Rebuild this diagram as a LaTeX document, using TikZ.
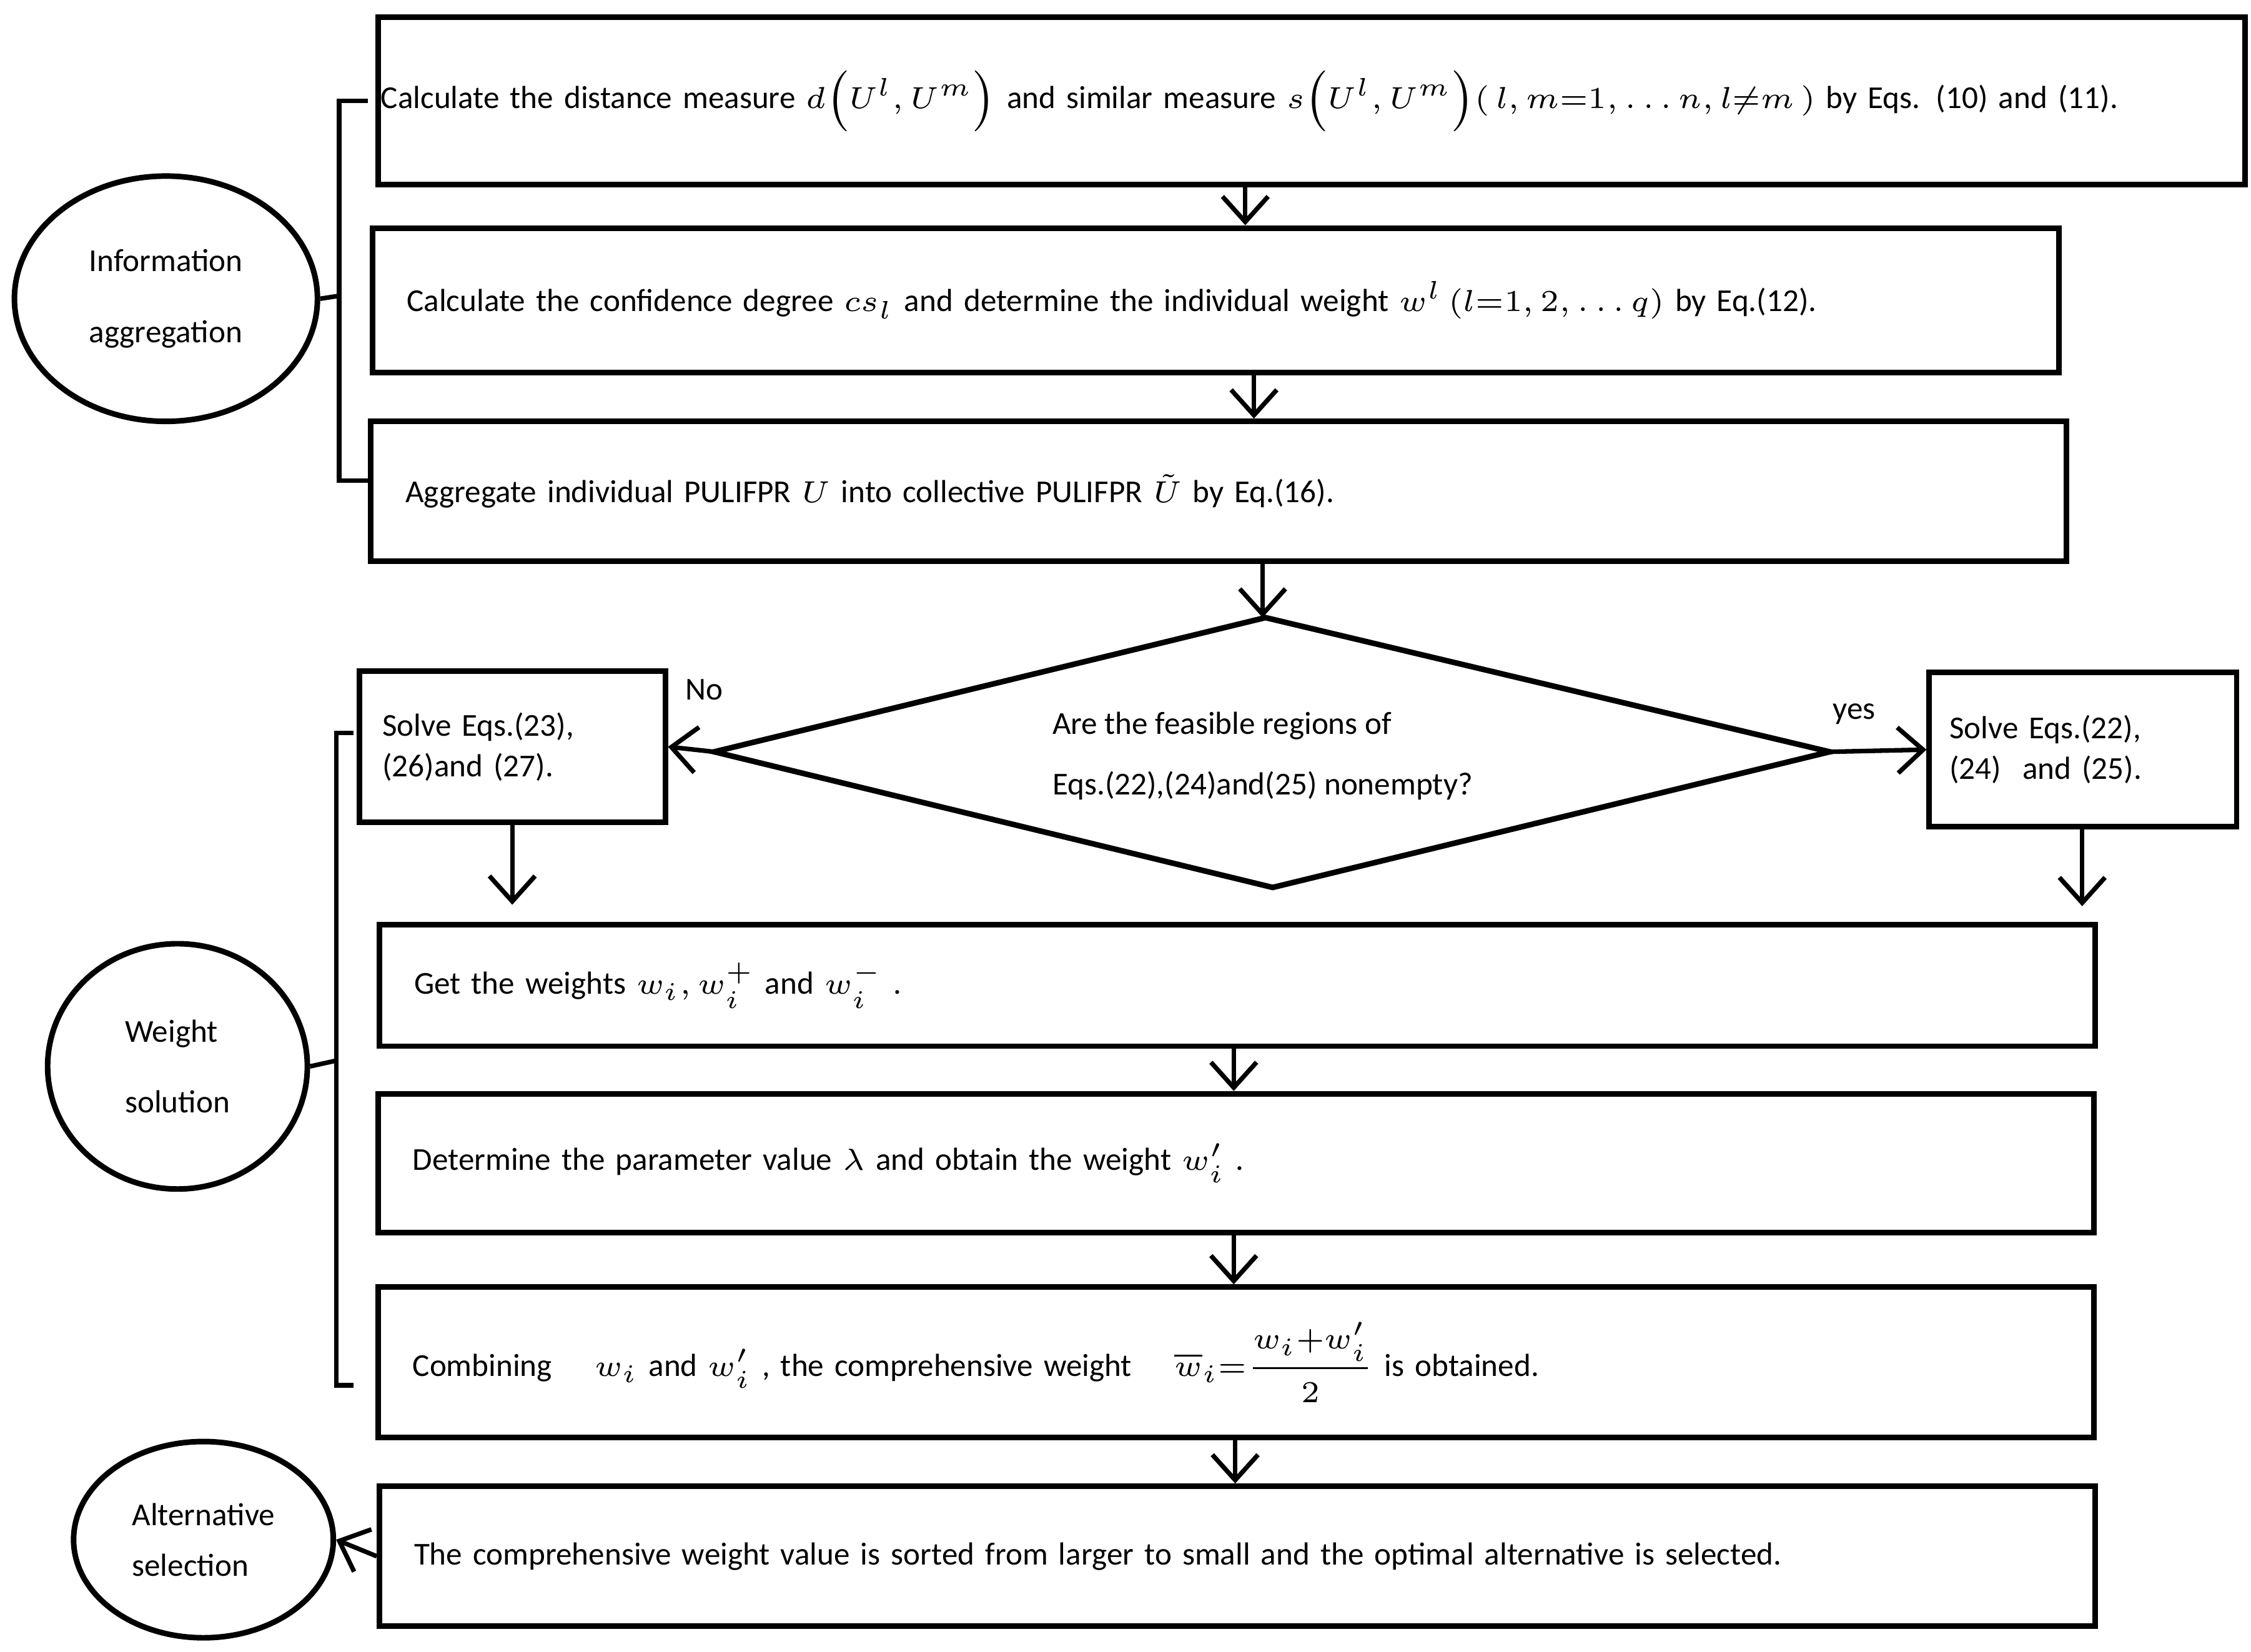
\documentclass[tikz,border=0pt]{standalone}
\usepackage{fontspec}
\setmainfont{Carlito}
\usetikzlibrary{arrows.meta,shapes.geometric}
\tikzset{
  box/.style={draw, line width=1.1pt, align=left, anchor=center, font=\fontsize{6.3}{8}\selectfont},
  oval/.style={draw, ellipse, line width=1.1pt, inner sep=0pt, align=left, font=\fontsize{6.3}{14}\selectfont},
  flow/.style={-{Straight Barb[length=5pt,width=9pt]}, line width=0.9pt},
  brace/.style={line width=0.9pt}
}
\begin{document}
\begin{tikzpicture}
  \useasboundingbox (0,0) rectangle (15.6,-11.445);
  % steps
  \node[box, minimum width=12.94cm, minimum height=1.16cm, text width=12.9cm, inner xsep=0.02cm] (calc) at (9.09,-0.70)
    {Calculate the distance measure $d\!\left(U^l,U^m\right)$ and similar measure $s\!\left(U^l,U^m\right)\!(\,l,m{=}1,\ldots n,l{\neq}m\,)$ by Eqs. (10) and (11).};
  \node[box, minimum width=11.69cm, minimum height=1.0cm, text width=11.21cm, inner xsep=0.24cm] (conf) at (8.425,-2.08)
    {Calculate the confidence degree $cs_l$ and determine the individual weight $w^l\,(l{=}1,2,\ldots q)$ by Eq.(12).};
  \node[box, minimum width=11.75cm, minimum height=0.97cm, text width=11.27cm, inner xsep=0.24cm] (aggr) at (8.445,-3.405)
    {Aggregate individual PULIFPR $U$ into collective PULIFPR $\tilde U$ by Eq.(16).};
  % decision
  \coordinate (askN) at (8.77,-4.28);
  \coordinate (askW) at (4.95,-5.21);
  \coordinate (askE) at (12.68,-5.21);
  \coordinate (askS) at (8.82,-6.15);
  \draw[line width=1.1pt] (askN) -- (askE) -- (askS) -- (askW) -- cycle;
  \node[align=left, font=\fontsize{6.3}{12}\selectfont] (ask) at (8.75,-5.24)
    {Are the feasible regions of\\Eqs.(22),(24)and(25) nonempty?};
  \node[box, minimum width=2.12cm, minimum height=1.05cm, text width=1.8cm, inner xsep=0.16cm] (no) at (3.55,-5.175)
    {Solve Eqs.(23),\\(26)and (27).};
  \node[box, minimum width=2.13cm, minimum height=1.07cm, text width=1.85cm, inner xsep=0.14cm] (yes) at (14.435,-5.195)
    {Solve Eqs.(22),\\(24)~ and (25).};
  \node[box, minimum width=11.89cm, minimum height=0.84cm, text width=11.41cm, inner xsep=0.24cm] (get) at (8.575,-6.83)
    {Get the weights $w_i,w_i^{+}$ and $w_i^{-}$ .};
  \node[box, minimum width=11.89cm, minimum height=0.96cm, text width=11.41cm, inner xsep=0.24cm] (param) at (8.565,-8.06)
    {Determine the parameter value $\lambda$ and obtain the weight $w_i'$ .};
  \node[box, minimum width=11.89cm, minimum height=1.04cm, text width=11.41cm, inner xsep=0.24cm] (comb) at (8.565,-9.44)
    {Combining \quad $w_i$ and $w_i'$ , the comprehensive weight \quad $\overline{w}_i{=}\displaystyle\frac{w_i{+}w_i'}{2}$ is obtained.};
  \node[box, minimum width=11.89cm, minimum height=0.97cm, text width=11.41cm, inner xsep=0.24cm] (sort) at (8.575,-10.785)
    {The comprehensive weight value is sorted from larger to small and the optimal alternative is selected.};
  % stages
  \node[oval, minimum width=2.1cm, minimum height=1.7cm] (info) at (1.15,-2.07) {Information\\aggregation};
  \node[oval, minimum width=1.8cm, minimum height=1.7cm] (weight) at (1.23,-7.39) {Weight\\solution};
  \node[oval, font=\fontsize{6.3}{10}\selectfont, minimum width=1.8cm, minimum height=1.36cm] (alt) at (1.41,-10.67) {Alternative\\selection};
  % brackets
  \draw[brace] (2.55,-0.70) -- (2.35,-0.70) -- (2.35,-3.33) -- (2.57,-3.33);
  \draw[brace] (info.east) -- (2.35,-2.05);
  \draw[brace] (2.45,-5.08) -- (2.33,-5.08) -- (2.33,-9.60) -- (2.45,-9.60);
  \draw[brace] (weight.east) -- (2.33,-7.35);
  % arrows
  \draw[flow] (calc.south -| 8.63,0) -- (conf.north -| 8.63,0);
  \draw[flow] (conf.south -| 8.69,0) -- (aggr.north -| 8.69,0);
  \draw[flow] (aggr.south -| 8.75,0) -- (askN -| 8.75,0);
  \draw[flow] (askW) -- (no.east);
  \draw[flow] (askE) -- (yes.west);
  \node[font=\fontsize{6.3}{8}\selectfont] (nolab) at (4.88,-4.78) {No};
  \node[font=\fontsize{6.3}{8}\selectfont] (yeslab) at (12.85,-4.95) {yes};
  \coordinate (noend) at (3.55,-6.27);
  \coordinate (yesend) at (14.43,-6.28);
  \draw[flow] (no.south) -- (noend);
  \draw[flow] (yes.south -| 14.43,0) -- (yesend);
  \draw[flow] (get.south -| 8.55,0) -- (param.north -| 8.55,0);
  \draw[flow] (param.south -| 8.55,0) -- (comb.north -| 8.55,0);
  \draw[flow] (comb.south -| 8.56,0) -- (sort.north -| 8.56,0);
  \draw[flow] (sort.west) -- (alt.east);
\end{tikzpicture}
\end{document}
